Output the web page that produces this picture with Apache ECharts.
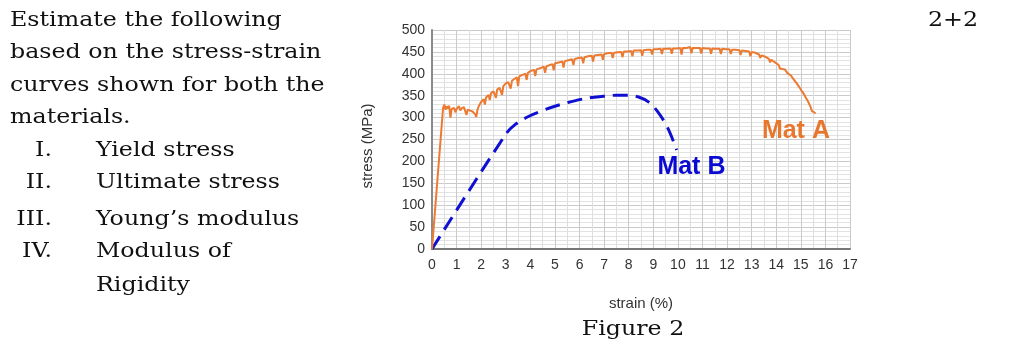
<!DOCTYPE html>
<html>
<head>
<meta charset="utf-8">
<script src="https://cdn.jsdelivr.net/npm/echarts@6/dist/echarts.min.js"></script>
<style>
  html, body { margin: 0; padding: 0; background: #fff; }
  #chart { width: 1024px; height: 346px; }
</style>
</head>
<body>
<div id="chart"></div>
<script>
// Stress-strain curves for two materials (strain in %, stress in MPa)
const matAStrain = [
  0, 0.45, 0.5, 0.55, 0.6, 0.65, 0.7, 0.75, 0.8, 0.85, 0.9, 0.95, 1.0, 1.05, 1.1, 1.15, 1.2, 1.25, 1.3, 1.35,
  1.4, 1.45, 1.5, 1.55, 1.6, 1.65, 1.7, 1.75, 1.8, 1.85, 1.9, 2.0, 2.1, 2.15, 2.2, 2.3, 2.35, 2.4, 2.5, 2.6,
  2.65, 2.75, 2.85, 2.9, 3.0, 3.1, 3.2, 3.25, 3.35, 3.45, 3.5, 3.55, 3.65, 3.8, 3.85, 3.9, 4.0, 4.15, 4.2, 4.25,
  4.4, 4.55, 4.6, 4.65, 4.8, 4.9, 4.95, 5.0, 5.15, 5.3, 5.35, 5.4, 5.55, 5.7, 5.75, 5.8, 5.95, 6.1, 6.15, 6.2,
  6.35, 6.5, 6.55, 6.6, 6.75, 6.9, 6.95, 7.0, 7.15, 7.3, 7.35, 7.4, 7.55, 7.7, 7.75, 7.8, 7.95, 8.1, 8.15, 8.2,
  8.35, 8.5, 8.55, 8.6, 8.75, 8.9, 8.95, 9.0, 9.15, 9.3, 9.35, 9.4, 9.55, 9.7, 9.75, 9.8, 9.95, 10.1, 10.15, 10.2,
  10.35, 10.5, 10.55, 10.6, 10.75, 10.9, 10.95, 11.0, 11.15, 11.3, 11.35, 11.4, 11.55, 11.7, 11.75, 11.8, 11.95, 12.1, 12.15, 12.2,
  12.35, 12.5, 12.55, 12.6, 12.75, 12.9, 12.95, 13.0, 13.15, 13.3, 13.35, 13.4, 13.55, 13.7, 13.75, 13.8, 13.95, 14.0, 14.1, 14.15,
  14.2, 14.35, 14.45, 14.5, 14.6, 14.7, 14.75, 14.85, 15.0, 15.1, 15.2, 15.3, 15.4, 15.45, 15.5, 15.55, 15.6
];
const matAStress = [
  0, 322, 330, 318, 326, 321, 327, 300, 320, 316, 322, 312, 320, 318, 326, 316, 321, 318, 324, 315,
  306, 318, 320, 316, 318, 314, 318, 308, 302, 318, 326, 336, 342, 330, 346, 352, 340, 356, 360, 345,
  364, 368, 352, 372, 378, 381, 366, 384, 388, 392, 372, 394, 397, 400, 386, 402, 406, 409, 395, 410,
  413, 416, 402, 417, 420, 422, 408, 424, 426, 428, 414, 429, 431, 433, 420, 434, 436, 437, 424, 438,
  440, 441, 428, 442, 443, 444, 432, 445, 447, 448, 436, 448, 449, 450, 438, 451, 451, 452, 440, 453,
  453, 454, 441, 454, 455, 455, 444, 456, 456, 457, 445, 457, 457, 458, 446, 458, 458, 459, 444, 459,
  459, 461, 447, 459, 459, 459, 446, 459, 458, 458, 446, 458, 457, 457, 445, 457, 456, 456, 445, 455,
  455, 454, 443, 453, 452, 451, 440, 450, 448, 444, 436, 442, 439, 434, 426, 432, 426, 424, 420, 412,
  416, 410, 402, 404, 396, 388, 384, 377, 364, 356, 346, 336, 324, 315, 318, 312, 309
];

const matBStrain = [0, 3.0, 3.4, 3.9, 4.5, 5.0, 5.5, 6.0, 6.5, 7.0, 7.5, 8.0, 8.4, 8.8, 9.2, 9.6, 9.95];
const matBStress = [0, 262, 285, 302, 316, 326, 334, 341, 346, 349, 351, 351, 347, 336, 312, 275, 226];

const strainTicks = [0, 1, 2, 3, 4, 5, 6, 7, 8, 9, 10, 11, 12, 13, 14, 15, 16, 17];
const stressTicks = [0, 50, 100, 150, 200, 250, 300, 350, 400, 450, 500];

const questionLines = [
  'Estimate the following',
  'based on the stress-strain',
  'curves shown for both the',
  'materials.'
];
const itemNumbers = ['I.', 'II.', 'III.', 'IV.'];
const itemTexts = ['Yield stress', 'Ultimate stress', 'Young\u2019s modulus', 'Modulus of'];

const zip = (xs, ys) => xs.map((x, i) => [x, ys[i]]);

const serif = '"DejaVu Serif", "Liberation Serif", serif';
const sans = '"Liberation Sans", Arial, sans-serif';
const serifFont = '21px ' + serif;
const stretch = 1.13;

function serifText(str, x, y, align) {
  return {
    type: 'text', x: x, y: y, scaleX: stretch, silent: true,
    style: { text: str, font: serifFont, fill: '#111', align: align || 'left', verticalAlign: 'middle' }
  };
}

const graphics = [];
const lineY = [21, 53, 86, 118];
questionLines.forEach((t, i) => graphics.push(serifText(t, 10, lineY[i])));
const itemY = [151, 183, 220, 252];
itemNumbers.forEach((t, i) => {
  graphics.push(serifText(t, 52, itemY[i], 'right'));
  graphics.push(serifText(itemTexts[i], 96, itemY[i]));
});
graphics.push(serifText('Rigidity', 96, 286));
graphics.push(serifText('2+2', 953, 21, 'center'));
graphics.push(serifText('Figure 2', 633, 330, 'center'));
graphics.push({
  type: 'text', x: 368, y: 146, rotation: Math.PI / 2, silent: true,
  style: { text: 'stress (MPa)', font: '15px ' + sans, fill: '#333', align: 'center', verticalAlign: 'middle' }
});

// Curve name tags, anchored in data coordinates
function curveTag(name, point, color) {
  return {
    type: 'scatter', symbolSize: 0, silent: true,
    itemStyle: { opacity: 1 },
    data: [point],
    label: { show: true, position: 'inside', formatter: name,
      fontFamily: sans, fontWeight: 'bold', fontSize: 25, color: color }
  };
}

const chart = echarts.init(document.getElementById('chart'), null, { renderer: 'canvas' });
chart.setOption({
  animation: false,
  backgroundColor: '#fff',
  grid: { left: 432, right: 174, top: 30, bottom: 97 },
  xAxis: {
    type: 'value', min: 0, max: 17, interval: 1,
    name: 'strain (%)', nameLocation: 'middle', nameGap: 47,
    nameTextStyle: { fontFamily: sans, fontSize: 15, color: '#333' },
    axisLine: { show: true, lineStyle: { color: '#777', width: 2 } },
    axisTick: { show: false },
    axisLabel: { margin: 9, fontFamily: sans, fontSize: 14, color: '#333',
      formatter: v => strainTicks.includes(v) ? String(v) : '' },
    splitLine: { show: true, lineStyle: { color: '#cacaca', width: 1 } },
    minorTick: { show: false, splitNumber: 2 },
    minorSplitLine: { show: true, lineStyle: { color: '#dedede', width: 1 } }
  },
  yAxis: {
    type: 'value', min: 0, max: 500, interval: 50,
    axisLine: { show: true, lineStyle: { color: '#8a8a8a', width: 2 } },
    axisTick: { show: false },
    axisLabel: { margin: 7, fontFamily: sans, fontSize: 14, color: '#333',
      formatter: v => stressTicks.includes(v) ? String(v) : '' },
    splitLine: { show: true, lineStyle: { color: '#cacaca', width: 1 } },
    minorTick: { show: false, splitNumber: 5 },
    minorSplitLine: { show: true, lineStyle: { color: '#e2e2e2', width: 1 } }
  },
  series: [
    {
      name: 'Mat B', type: 'line', data: zip(matBStrain, matBStress),
      smooth: 0.35, symbol: 'none',
      lineStyle: { color: '#0f0fd2', width: 3, type: [15, 8] },
      z: 3
    },
    {
      name: 'Mat A', type: 'line', data: zip(matAStrain, matAStress),
      smooth: false, symbol: 'none',
      lineStyle: { color: '#ec7a30', width: 2 },
      z: 4
    },
    curveTag('Mat A', [14.8, 269], '#e8772e'),
    curveTag('Mat B', [10.55, 187], '#0a0ad2')
  ],
  graphic: graphics
});
</script>
</body>
</html>
